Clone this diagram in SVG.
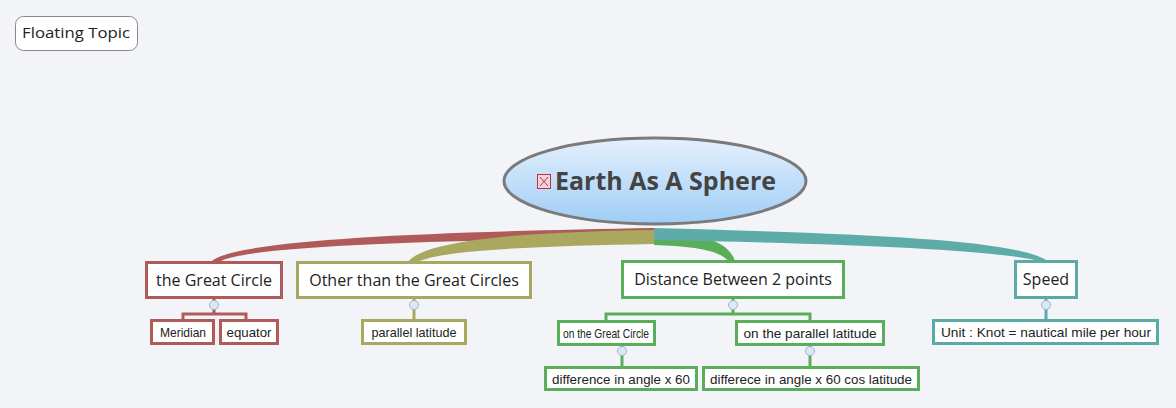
<svg xmlns="http://www.w3.org/2000/svg" width="1176" height="408" viewBox="0 0 1176 408">
<style>
.t{font-family:"Open Sans","DejaVu Sans",sans-serif;fill:#222}
.s{font-family:"Liberation Sans","DejaVu Sans",sans-serif;fill:#222;font-size:13px}
.b{fill:#fff;stroke-width:3}
.r{stroke:#b05a5a}.o{stroke:#a8a860}.g{stroke:#5aad5a}.c{stroke:#5aaaa6}
.tog{fill:#dde8f5;stroke:#9ab4d8;stroke-width:1}
</style>
<defs>
<linearGradient id="eg" x1="0" y1="0" x2="0" y2="1"><stop offset="0" stop-color="#e4f0fd"/><stop offset="1" stop-color="#9fcdf6"/></linearGradient>
</defs>
<rect width="1176" height="408" fill="#f3f4f8"/>
<g id="connectors">
<path d="M654,228 C420,232 232,240 211,262 L219,262 C245,246 430,240 654,238 Z" fill="#b05a5a"/>
<path d="M654,230 C520,232 425,240 408,262 L418,262 C440,250 540,246 654,244 Z" fill="#aaa85e"/>
<path d="M654,230 C700,234 728,240 735,261 L728,261 C720,250 690,246 654,245 Z" fill="#5aad5a"/>
<path d="M654,228 C880,234 1020,240 1049,262 L1043,262 C1000,250 860,244 654,240 Z" fill="#5eaca8"/>
<g fill="none" stroke-width="3">
<path class="r" d="M214,298V314M183,320V314H246V320"/>
<path class="o" d="M414,298V320"/>
<path class="g" d="M733,298V314M606,321V314H810V321M622,345V367M810,345V367"/>
<path class="c" d="M1046,298V320"/>
</g>
</g>
<g id="floating"><rect x="15.5" y="16.5" width="122" height="34" rx="8" fill="#fff" stroke="#888"/><text class="t" x="76" y="38" font-size="15" text-anchor="middle" textLength="108" lengthAdjust="spacingAndGlyphs">Floating Topic</text></g>
<g id="root"><ellipse cx="655" cy="181" rx="151" ry="43" fill="url(#eg)" stroke="#7a7a7a" stroke-width="3"/>
<rect x="537.5" y="174.5" width="13" height="14" fill="#f4d4dc" stroke="#c03040"/><path d="M540,177l8,9M548,177l-8,9" stroke="#c03040"/>
<text x="555" y="190" font-family="'Open Sans','DejaVu Sans',sans-serif" font-weight="bold" font-size="25" fill="#444" textLength="221" lengthAdjust="spacingAndGlyphs">Earth As A Sphere</text></g>
<g id="n1"><rect class="b r" x="146.5" y="262.5" width="135" height="35"/><text class="t" x="214" y="286" font-size="16" text-anchor="middle">the Great Circle</text></g>
<g id="n2"><rect class="b o" x="297.5" y="262.5" width="233" height="35"/><text class="t" x="414" y="286" font-size="16" text-anchor="middle">Other than the Great Circles</text></g>
<g id="n3"><rect class="b g" x="622.5" y="261.5" width="221" height="36"/><text class="t" x="733" y="285" font-size="16" text-anchor="middle">Distance Between 2 points</text></g>
<g id="n4"><rect class="b c" x="1015.5" y="261.5" width="61" height="36"/><text class="t" x="1046" y="285" font-size="16" text-anchor="middle">Speed</text></g>
<g id="n5"><rect class="b r" x="151.5" y="320.5" width="62" height="23"/><text class="s" x="183" y="337" text-anchor="middle" textLength="46" lengthAdjust="spacingAndGlyphs">Meridian</text></g>
<g id="n6"><rect class="b r" x="220.5" y="320.5" width="57" height="23"/><text class="s" x="249" y="337" text-anchor="middle" textLength="45" lengthAdjust="spacingAndGlyphs">equator</text></g>
<g id="n7"><rect class="b o" x="362.5" y="320.5" width="103" height="23"/><text class="s" x="414" y="337" text-anchor="middle" textLength="85" lengthAdjust="spacingAndGlyphs">parallel latitude</text></g>
<g id="n8"><rect class="b g" x="558.5" y="321.5" width="96" height="23"/><text class="s" x="606" y="338" text-anchor="middle" textLength="86" lengthAdjust="spacingAndGlyphs">on the Great Circle</text></g>
<g id="n9"><rect class="b g" x="736.5" y="321.5" width="147" height="23"/><text class="s" x="810" y="338" text-anchor="middle" textLength="133" lengthAdjust="spacingAndGlyphs">on the parallel latitude</text></g>
<g id="n10"><rect class="b c" x="933.5" y="320.5" width="224" height="23"/><text class="s" x="1046" y="337" text-anchor="middle" textLength="210" lengthAdjust="spacingAndGlyphs">Unit : Knot = nautical mile per hour</text></g>
<g id="n11"><rect class="b g" x="545.5" y="367.5" width="151" height="22"/><text class="s" x="621" y="384" text-anchor="middle" textLength="138" lengthAdjust="spacingAndGlyphs">difference in angle x 60</text></g>
<g id="n12"><rect class="b g" x="703.5" y="367.5" width="215" height="22"/><text class="s" x="811" y="384" text-anchor="middle" textLength="202" lengthAdjust="spacingAndGlyphs">differece in angle x 60 cos latitude</text></g>
<g id="toggles">
<circle class="tog" cx="214" cy="305" r="4.5"/><circle class="tog" cx="414" cy="305" r="4.5"/><circle class="tog" cx="733" cy="305" r="4.5"/><circle class="tog" cx="1046" cy="305" r="4.5"/><circle class="tog" cx="622" cy="351" r="4.5"/><circle class="tog" cx="810" cy="351" r="4.5"/>
</g>
</svg>
